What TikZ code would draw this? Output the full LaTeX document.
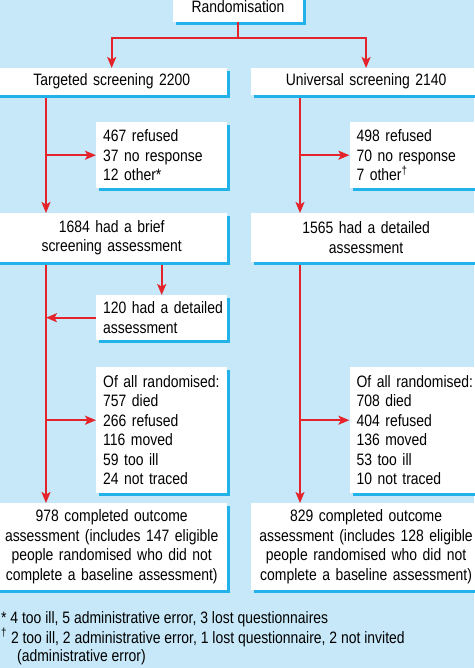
\documentclass[tikz,border=0pt]{standalone}
\usepackage{fontspec}
\setmainfont{Liberation Sans}[FakeStretch=0.845]
\usetikzlibrary{arrows.meta,positioning,shadows}
\definecolor{bgblue}{HTML}{C7E8F8}
\definecolor{shadeblue}{HTML}{22B2EA}
\definecolor{flowred}{HTML}{E4232B}

\begin{document}
\begin{tikzpicture}[x=1pt,y=-1pt,>={Stealth[length=11pt,width=9pt,inset=2.5pt]},font=\fontsize{16.5}{19.5}\selectfont]
\tikzstyle{box}=[fill=white,inner ysep=0pt,drop shadow={shadow xshift=3pt,shadow yshift=-3pt,fill=shadeblue,opacity=1}]
\tikzstyle{mainbox}=[box,align=center,text width=229pt,inner xsep=1pt]
\tikzstyle{sidebox}=[box,align=left,text width=129pt,inner xsep=1pt]
\tikzstyle{flow}=[->,flowred,line width=1.8pt]
\tikzstyle{note}=[anchor=base west,inner sep=0pt]
\fill[bgblue] (0,0) rectangle (474,668);
\useasboundingbox (0,0) rectangle (474,668);
\node[box,minimum width=130pt,minimum height=30pt,anchor=south] (rand) at (238,22) {Randomisation};
\node[mainbox,minimum height=27pt,anchor=north west] (targ) at (-4,68) {Targeted screening 2200};
\node[mainbox,minimum height=27pt,right=23pt of targ] (univ) {Universal screening 2140};
\node[sidebox,minimum height=66pt,anchor=north west] (ex1) at (96,122) {\hspace*{6pt}467 refused\\\hspace*{6pt}37 no response\\\hspace*{6pt}12 other*};
\node[sidebox,minimum height=66pt,right=122pt of ex1] (ex2) {\hspace*{6pt}498 refused\\\hspace*{6pt}70 no response\\\hspace*{6pt}7 other\textsuperscript{†}};
\node[mainbox,minimum height=49pt,anchor=north west] (scr1) at (-4,213) {1684 had a brief\\screening assessment};
\node[mainbox,minimum height=49pt,right=23pt of scr1] (scr2) {1565 had a detailed\\assessment};
\node[sidebox,minimum height=45pt,anchor=north west] (det) at (96,295) {\hspace*{6pt}120 had a detailed\\\hspace*{6pt}assessment};
\node[sidebox,minimum height=126pt,anchor=north west] (lost1) at (96,367) {\hspace*{6pt}Of all randomised:\\\hspace*{6pt}757 died\\\hspace*{6pt}266 refused\\\hspace*{6pt}116 moved\\\hspace*{6pt}59 too ill\\\hspace*{6pt}24 not traced};
\node[sidebox,minimum height=126pt,right=122pt of lost1] (lost2) {\hspace*{6pt}Of all randomised:\\\hspace*{6pt}708 died\\\hspace*{6pt}404 refused\\\hspace*{6pt}136 moved\\\hspace*{6pt}53 too ill\\\hspace*{6pt}10 not traced};
\node[mainbox,minimum height=87pt,anchor=north west] (out1) at (-4,503) {978 completed outcome\\assessment (includes 147 eligible\\people randomised who did not\\complete a baseline assessment)};
\node[mainbox,minimum height=87pt,right=23pt of out1] (out2) {829 completed outcome\\assessment (includes 128 eligible\\people randomised who did not\\complete a baseline assessment)};
\node[note] (fn1) at (1,623) {* 4 too ill, 5 administrative error, 3 lost questionnaires};
\node[note] (fn2) at (1,643) {\textsuperscript{†} 2 too ill, 2 administrative error, 1 lost questionnaire, 2 not invited};
\node[note] (fn3) at (17,661) {(administrative error)};
\coordinate (split) at (238,38);
\coordinate (lx) at (46,0);
\coordinate (rx) at (300,0);
\coordinate (b1) at ([yshift=10pt]lost1.west);
\coordinate (b2) at ([yshift=10pt]lost2.west);
\draw[flow] (rand.south) -- (split) -| (targ.north);
\draw[flow] (split) -| (univ.north);
\draw[flow,shorten <=3pt] (targ.south -| lx) -- (scr1.north -| lx);
\draw[flow] (lx |- ex1.west) -- (ex1.west);
\draw[flow,shorten <=3pt] (univ.south -| rx) -- (scr2.north -| rx);
\draw[flow] (rx |- ex2.west) -- (ex2.west);
\draw[flow,shorten <=3pt] (scr1.south -| det.north) -- (det.north);
\draw[flow] (det.west) -- (det.west -| lx);
\draw[flow,shorten <=3pt] (scr1.south -| lx) -- (out1.north -| lx);
\draw[flow] (lx |- b1) -- (b1);
\draw[flow,shorten <=3pt] (scr2.south -| rx) -- (out2.north -| rx);
\draw[flow] (rx |- b2) -- (b2);
\end{tikzpicture}
\end{document}
